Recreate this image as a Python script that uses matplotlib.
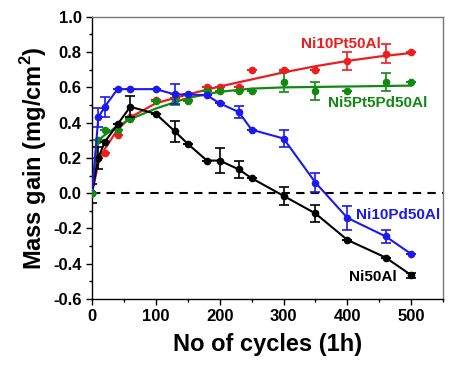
import matplotlib
matplotlib.use("Agg")
import matplotlib.pyplot as plt
from matplotlib.ticker import MultipleLocator

plt.rcParams['font.family'] = ['Liberation Sans', 'DejaVu Sans']
plt.rcParams['font.weight'] = 'bold'
plt.rcParams['mathtext.fontset'] = 'custom'
plt.rcParams['mathtext.bf'] = 'Liberation Sans:bold'

cycles = [0, 10, 20, 40, 60, 100, 130, 150, 180, 200, 230, 250, 300, 350, 400, 460, 500]

ni50al = [0, 0.20, 0.29, 0.39, 0.49, 0.45, 0.35, 0.28, 0.185, 0.185, 0.135, 0.085, -0.015, -0.115, -0.265, -0.365, -0.465]
ni50al_err = [0.055, 0.06, 0, 0, 0.06, 0, 0.06, 0, 0, 0.07, 0.05, 0, 0.05, 0.05, 0, 0, 0.015]

ni10pd = [0, 0.43, 0.49, 0.59, 0.59, 0.59, 0.56, 0.56, 0.555, 0.51, 0.46, 0.36, 0.31, 0.06, -0.14, -0.245, -0.345]
ni10pd_err = [0, 0.055, 0.057, 0, 0, 0, 0.057, 0, 0, 0, 0.032, 0, 0.05, 0.053, 0.07, 0.035, 0]

ni10pt_x = [10, 20, 40, 60, 100, 130, 150, 180, 200, 230, 250, 300, 350, 400, 460, 500]
ni10pt = [0.20, 0.23, 0.33, 0.43, 0.53, 0.54, 0.53, 0.60, 0.60, 0.60, 0.70, 0.70, 0.70, 0.75, 0.79, 0.80]
ni10pt_err = [0, 0, 0, 0, 0, 0, 0, 0, 0, 0, 0, 0, 0, 0.05, 0.054, 0]
ni10pt_fit_x = [0, 10, 20, 40, 60, 100, 150, 200, 250, 300, 350, 400, 450, 500]
ni10pt_fit = [0, 0.17, 0.25, 0.36, 0.43, 0.51, 0.56, 0.605, 0.645, 0.685, 0.72, 0.75, 0.775, 0.795]

ni5pt5pd_x = [10, 20, 40, 60, 100, 130, 150, 180, 200, 230, 250, 300, 350, 400, 460, 500]
ni5pt5pd = [0.30, 0.36, 0.36, 0.42, 0.52, 0.53, 0.52, 0.58, 0.58, 0.58, 0.58, 0.63, 0.58, 0.58, 0.63, 0.63]
ni5pt5pd_err = [0, 0, 0, 0, 0, 0.03, 0, 0, 0, 0, 0, 0.055, 0.05, 0, 0.05, 0]
ni5pt5pd_fit_x = [0, 10, 20, 40, 60, 100, 150, 200, 250, 300, 400, 500]
ni5pt5pd_fit = [0, 0.30, 0.33, 0.38, 0.42, 0.48, 0.54, 0.575, 0.593, 0.600, 0.605, 0.61]

red = '#ee1c1c'
green = '#118a11'
blue = '#1a1aee'
black = '#000000'

fig = plt.figure(figsize=(4.74, 3.66), dpi=100)
ax = fig.add_axes([0.194, 0.183, 0.741, 0.771])

ax.axhline(0, color='black', lw=1.5, ls=(0, (4, 3)), zorder=1)

ms = 4.5
# Ni10Pt50Al
ax.plot(ni10pt_fit_x, ni10pt_fit, color=red, lw=1.6, zorder=2)
ax.errorbar(ni10pt_x, ni10pt, yerr=ni10pt_err, fmt='o', color=red, ms=ms, capsize=3.5, elinewidth=1.2, capthick=1.2, zorder=3)
# Ni5Pt5Pd50Al
ax.plot(ni5pt5pd_fit_x, ni5pt5pd_fit, color=green, lw=1.6, zorder=2)
ax.errorbar(ni5pt5pd_x, ni5pt5pd, yerr=ni5pt5pd_err, fmt='o', color=green, ms=ms, capsize=3.5, elinewidth=1.2, capthick=1.2, zorder=3)
ax.plot([0], [0], 'D', color=green, ms=4, zorder=6)
# Ni50Al
ax.errorbar(cycles, ni50al, yerr=ni50al_err, fmt='-o', color=black, ms=ms, lw=1.5, capsize=3.5, elinewidth=1.2, capthick=1.2, zorder=4)
# Ni10Pd50Al
ax.errorbar(cycles, ni10pd, yerr=ni10pd_err, fmt='-o', color=blue, ms=ms, lw=1.5, capsize=3.5, elinewidth=1.2, capthick=1.2, zorder=5)

ax.set_xlim(0, 550)
ax.set_ylim(-0.6, 1.0)
ax.xaxis.set_major_locator(MultipleLocator(100))
ax.xaxis.set_minor_locator(MultipleLocator(50))
ax.yaxis.set_major_locator(MultipleLocator(0.2))
ax.yaxis.set_minor_locator(MultipleLocator(0.1))
ax.set_xticks([0, 100, 200, 300, 400, 500])
ax.set_yticks([-0.6, -0.4, -0.2, 0.0, 0.2, 0.4, 0.6, 0.8, 1.0])
ax.set_yticklabels(['-0.6', '-0.4', '-0.2', '0.0', '0.2', '0.4', '0.6', '0.8', '1.0'])
ax.tick_params(which='both', direction='out', top=False, right=False, labelsize=12)
ax.tick_params(which='major', length=4, width=1)
ax.tick_params(which='minor', length=2.5, width=1)
for lbl in ax.get_xticklabels() + ax.get_yticklabels():
    lbl.set_fontweight('bold')
for s in ['top', 'right']:
    ax.spines[s].set_color('#777777')
for s in ax.spines.values():
    s.set_linewidth(1)

ax.set_xlabel('No of cycles (1h)', fontsize=17, fontweight='bold', labelpad=6)
ax.set_ylabel('Mass gain (mg/cm$^\\mathbf{2}$)', fontsize=17, fontweight='bold', labelpad=3)

ax.text(390, 0.845, 'Ni10Pt50Al', color=red, fontsize=11, fontweight='bold', ha='center', va='center')
ax.text(447, 0.51, 'Ni5Pt5Pd50Al', color=green, fontsize=11, fontweight='bold', ha='center', va='center')
ax.text(479, -0.125, 'Ni10Pd50Al', color=blue, fontsize=11, fontweight='bold', ha='center', va='center')
ax.text(440, -0.475, 'Ni50Al', color=black, fontsize=11, fontweight='bold', ha='center', va='center')

fig.savefig('out.png', dpi=100)
